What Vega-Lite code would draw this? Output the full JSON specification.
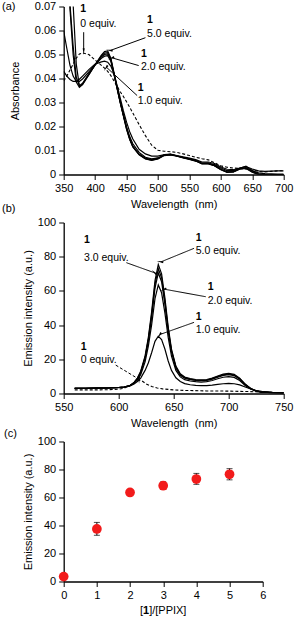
{
"$schema":"https://vega.github.io/schema/vega-lite/v6.json",
"background":"white",
"padding":{"left":1.7,"top":0.5,"right":0,"bottom":0},
"autosize":{"type":"pad"},
"bounds":"flush",
"spacing":48,
"config":{"font":"Liberation Sans","view":{"stroke":null},
"axis":{"grid":false,"domainColor":"black","domainWidth":1.3,"tickColor":"black","tickSize":5,"tickWidth":1,"labelColor":"black","labelFontSize":11,"labelPadding":3,"labelOverlap":false,"labelFlush":false,"labelBound":false,"labelSeparation":0,"titleColor":"black","titleFontSize":11,"titleFontWeight":"normal","titlePadding":5,"labelFont":"Liberation Sans","titleFont":"Liberation Sans"}},
"datasets":{
"absorb":[
{"nm":350,"e0":0.039,"e1":0.043,"e2":0.0597,"e3":0.10,"e4":0.14,"e5":0.13},
{"nm":355,"e0":0.041,"e1":0.041,"e2":0.0525,"e3":0.085,"e4":0.115,"e5":0.10},
{"nm":360,"e0":0.0435,"e1":0.0396,"e2":0.0455,"e3":0.071,"e4":0.092,"e5":0.069},
{"nm":365,"e0":0.046,"e1":0.0388,"e2":0.041,"e3":0.0535,"e4":0.071,"e5":0.050},
{"nm":370,"e0":0.0485,"e1":0.0388,"e2":0.0388,"e3":0.0405,"e4":0.046,"e5":0.0385},
{"nm":375,"e0":0.0502,"e1":0.0397,"e2":0.0388,"e3":0.037,"e4":0.0367,"e5":0.0363},
{"nm":380,"e0":0.0507,"e1":0.041,"e2":0.0398,"e3":0.038,"e4":0.0376,"e5":0.0375},
{"nm":390,"e0":0.050,"e1":0.0437,"e2":0.0428,"e3":0.042,"e4":0.0417,"e5":0.0415},
{"nm":400,"e0":0.0477,"e1":0.046,"e2":0.0458,"e3":0.0457,"e4":0.0457,"e5":0.0458},
{"nm":410,"e0":0.0455,"e1":0.0469,"e2":0.0484,"e3":0.049,"e4":0.0494,"e5":0.0497},
{"nm":415,"e0":0.0443,"e1":0.0472,"e2":0.0493,"e3":0.050,"e4":0.0506,"e5":0.0512},
{"nm":420,"e0":0.043,"e1":0.0468,"e2":0.0495,"e3":0.0502,"e4":0.0508,"e5":0.0515},
{"nm":425,"e0":0.0412,"e1":0.0452,"e2":0.0472,"e3":0.0478,"e4":0.048,"e5":0.0485},
{"nm":430,"e0":0.039,"e1":0.042,"e2":0.0418,"e3":0.0418,"e4":0.042,"e5":0.0425},
{"nm":435,"e0":0.0368,"e1":0.037,"e2":0.0358,"e3":0.0358,"e4":0.036,"e5":0.0365},
{"nm":440,"e0":0.0345,"e1":0.0318,"e2":0.0302,"e3":0.0298,"e4":0.030,"e5":0.0305},
{"nm":445,"e0":0.0325,"e1":0.0265,"e2":0.0248,"e3":0.0243,"e4":0.0245,"e5":0.025},
{"nm":450,"e0":0.0303,"e1":0.0218,"e2":0.0198,"e3":0.0188,"e4":0.019,"e5":0.0195},
{"nm":455,"e0":0.028,"e1":0.0178,"e2":0.0158,"e3":0.0146,"e4":0.0148,"e5":0.015},
{"nm":460,"e0":0.0256,"e1":0.0148,"e2":0.0128,"e3":0.0115,"e4":0.0116,"e5":0.0118},
{"nm":470,"e0":0.0208,"e1":0.0105,"e2":0.0092,"e3":0.0082,"e4":0.0083,"e5":0.0085},
{"nm":480,"e0":0.0162,"e1":0.0086,"e2":0.0072,"e3":0.0065,"e4":0.0066,"e5":0.0068},
{"nm":490,"e0":0.0122,"e1":0.0077,"e2":0.0065,"e3":0.0059,"e4":0.006,"e5":0.0062},
{"nm":500,"e0":0.0101,"e1":0.0077,"e2":0.0069,"e3":0.0065,"e4":0.0066,"e5":0.0068},
{"nm":510,"e0":0.0097,"e1":0.0083,"e2":0.0081,"e3":0.0079,"e4":0.008,"e5":0.0082},
{"nm":520,"e0":0.0095,"e1":0.0085,"e2":0.0084,"e3":0.0082,"e4":0.0083,"e5":0.0084},
{"nm":530,"e0":0.0092,"e1":0.0079,"e2":0.0077,"e3":0.0076,"e4":0.0077,"e5":0.0078},
{"nm":540,"e0":0.0086,"e1":0.0074,"e2":0.0071,"e3":0.0069,"e4":0.007,"e5":0.0071},
{"nm":550,"e0":0.0079,"e1":0.0068,"e2":0.0065,"e3":0.0063,"e4":0.0064,"e5":0.0065},
{"nm":560,"e0":0.0072,"e1":0.0062,"e2":0.0058,"e3":0.0056,"e4":0.0057,"e5":0.0058},
{"nm":570,"e0":0.0066,"e1":0.0052,"e2":0.0047,"e3":0.0044,"e4":0.0045,"e5":0.0046},
{"nm":580,"e0":0.0061,"e1":0.0052,"e2":0.0047,"e3":0.0044,"e4":0.0045,"e5":0.0047},
{"nm":590,"e0":0.0049,"e1":0.0046,"e2":0.0041,"e3":0.0037,"e4":0.0037,"e5":0.0037},
{"nm":600,"e0":0.0036,"e1":0.0031,"e2":0.0027,"e3":0.0022,"e4":0.0021,"e5":0.002},
{"nm":610,"e0":0.003,"e1":0.0022,"e2":0.0016,"e3":0.0011,"e4":0.001,"e5":0.0009},
{"nm":620,"e0":0.0027,"e1":0.002,"e2":0.0016,"e3":0.0011,"e4":0.0011,"e5":0.0012},
{"nm":630,"e0":0.0025,"e1":0.0027,"e2":0.0026,"e3":0.0022,"e4":0.0023,"e5":0.0026},
{"nm":640,"e0":0.0023,"e1":0.0033,"e2":0.0029,"e3":0.0025,"e4":0.0027,"e5":0.0035},
{"nm":650,"e0":0.0019,"e1":0.0023,"e2":0.0016,"e3":0.001,"e4":0.0011,"e5":0.0015},
{"nm":660,"e0":0.0013,"e1":0.0015,"e2":0.0007,"e3":0,"e4":0,"e5":0.0003},
{"nm":670,"e0":0.0011,"e1":0.0013,"e2":0.0004,"e3":0,"e4":0,"e5":0},
{"nm":680,"e0":0.0013,"e1":0.0014,"e2":0.0003,"e3":0,"e4":0,"e5":0},
{"nm":690,"e0":0.0015,"e1":0.0015,"e2":0.0002,"e3":0,"e4":0,"e5":0},
{"nm":700,"e0":0.0016,"e1":0.0015,"e2":0.0002,"e3":0,"e4":0,"e5":0}
],
"emis":[
{"nm":560,"e1":3.0,"e2":3.0,"e3":3.0,"e4":3.0,"e5":3.0},
{"nm":570,"e1":3.0,"e2":3.0,"e3":3.0,"e4":3.0,"e5":3.0},
{"nm":580,"e1":3.1,"e2":3.1,"e3":3.1,"e4":3.1,"e5":3.1},
{"nm":590,"e1":3.2,"e2":3.2,"e3":3.2,"e4":3.2,"e5":3.2},
{"nm":600,"e1":3.4,"e2":3.5,"e3":3.5,"e4":3.5,"e5":3.5},
{"nm":605,"e1":3.7,"e2":3.8,"e3":3.8,"e4":3.8,"e5":3.8},
{"nm":610,"e1":4.3,"e2":4.5,"e3":4.6,"e4":4.6,"e5":4.6},
{"nm":614,"e1":5.5,"e2":6.0,"e3":6.3,"e4":6.4,"e5":6.5},
{"nm":617,"e1":7,"e2":8.0,"e3":8.5,"e4":8.8,"e5":9},
{"nm":620,"e1":9,"e2":11,"e3":12.1,"e4":12.6,"e5":13},
{"nm":624,"e1":13.5,"e2":18.5,"e3":20.5,"e4":21.3,"e5":22},
{"nm":627,"e1":18,"e2":27.8,"e3":30.8,"e4":31.9,"e5":33},
{"nm":630,"e1":24,"e2":40.4,"e3":44.8,"e4":46.4,"e5":48},
{"nm":633,"e1":30.5,"e2":55.5,"e3":61.6,"e4":63.8,"e5":66},
{"nm":636,"e1":33.5,"e2":63.5,"e3":70.5,"e4":73,"e5":75.5},
{"nm":639,"e1":31.5,"e2":58.9,"e3":65.4,"e4":67.7,"e5":70},
{"nm":642,"e1":26,"e2":47.1,"e3":52.3,"e4":54.2,"e5":56},
{"nm":645,"e1":19,"e2":32.8,"e3":36.4,"e4":37.7,"e5":39},
{"nm":648,"e1":13.5,"e2":21.9,"e3":24.3,"e4":25.1,"e5":26},
{"nm":652,"e1":9.2,"e2":13.5,"e3":14.9,"e4":15.5,"e5":16},
{"nm":656,"e1":7.0,"e2":9.7,"e3":10.7,"e4":11.1,"e5":11.5},
{"nm":660,"e1":5.8,"e2":8.1,"e3":9.0,"e4":9.3,"e5":9.6},
{"nm":665,"e1":5.1,"e2":7.3,"e3":8.1,"e4":8.4,"e5":8.7},
{"nm":670,"e1":4.7,"e2":6.9,"e3":7.7,"e4":7.9,"e5":8.2},
{"nm":675,"e1":4.6,"e2":6.7,"e3":7.5,"e4":7.7,"e5":8.0},
{"nm":680,"e1":4.6,"e2":6.9,"e3":7.7,"e4":7.9,"e5":8.2},
{"nm":685,"e1":4.9,"e2":7.6,"e3":8.4,"e4":8.7,"e5":9.0},
{"nm":690,"e1":5.3,"e2":8.6,"e3":9.5,"e4":9.9,"e5":10.2},
{"nm":695,"e1":5.7,"e2":9.5,"e3":10.6,"e4":10.9,"e5":11.3},
{"nm":700,"e1":5.9,"e2":9.9,"e3":11.0,"e4":11.4,"e5":11.8},
{"nm":705,"e1":5.7,"e2":9.4,"e3":10.5,"e4":10.8,"e5":11.2},
{"nm":710,"e1":5.0,"e2":7.6,"e3":8.4,"e4":8.7,"e5":9.0},
{"nm":715,"e1":3.8,"e2":4.6,"e3":5.1,"e4":5.3,"e5":5.5},
{"nm":720,"e1":2.6,"e2":2.6,"e3":2.8,"e4":2.9,"e5":3.0},
{"nm":725,"e1":1.7,"e2":1.4,"e3":1.4,"e4":1.5,"e5":1.5},
{"nm":730,"e1":1.2,"e2":0.8,"e3":0.8,"e4":0.8,"e5":0.8},
{"nm":740,"e1":0.7,"e2":0.5,"e3":0.5,"e4":0.5,"e5":0.5},
{"nm":750,"e1":0.5,"e2":0.4,"e3":0.4,"e4":0.4,"e5":0.4}
],
"emis0":[
{"nm":560,"I":2.1},{"nm":570,"I":2.1},{"nm":580,"I":2.1},{"nm":590,"I":2.2},{"nm":600,"I":2.5},{"nm":605,"I":3.1},{"nm":610,"I":4.5},{"nm":614,"I":6.5},{"nm":618,"I":7.9},{"nm":621,"I":7.4},{"nm":625,"I":5.6},{"nm":630,"I":4.1},{"nm":635,"I":3.2},{"nm":640,"I":2.7},{"nm":650,"I":2.1},{"nm":660,"I":1.8},{"nm":680,"I":1.5},{"nm":700,"I":1.4},{"nm":720,"I":1.1},{"nm":740,"I":0.6},{"nm":750,"I":0.5}
],
"pts":[
{"r":0,"I":3.5,"lo":1.5,"hi":5.5},
{"r":1,"I":37.5,"lo":33,"hi":42.2},
{"r":2,"I":63.6,"lo":62.5,"hi":64.7},
{"r":3,"I":68.4,"lo":65.8,"hi":71.2},
{"r":4,"I":73.2,"lo":69.4,"hi":77.2},
{"r":5,"I":76.6,"lo":72.6,"hi":80.6}
],
"arrA":[
{"id":"0","x":381.8,"y":0.0593,"x2":381.8,"y2":0.0517},
{"id":"5.0","x":480,"y":0.057,"x2":424.3,"y2":0.0517},
{"id":"2.0","x":469.3,"y":0.0454,"x2":427,"y2":0.0486},
{"id":"1.0","x":466.8,"y":0.0329,"x2":418,"y2":0.0447}
],
"labA":[
{"k":"b","x":376.5,"y":0.069,"t":"1"},{"k":"n","x":376.5,"y":0.0628,"t":"0 equiv."},
{"k":"b","x":482.7,"y":0.0642,"t":"1"},{"k":"n","x":482.7,"y":0.0586,"t":"5.0 equiv."},
{"k":"b","x":473,"y":0.0503,"t":"1"},{"k":"n","x":473,"y":0.0447,"t":"2.0 equiv."},
{"k":"b","x":468,"y":0.0361,"t":"1"},{"k":"n","x":468,"y":0.0308,"t":"1.0 equiv."},
{"k":"p","x":252,"y":0.0697,"t":"(a)"}
],
"arrB":[
{"id":"3.0","x":607,"y":76.5,"x2":633,"y2":70.5},
{"id":"5.0","x":668.5,"y":84.9,"x2":638.5,"y2":77},
{"id":"2.0","x":679.1,"y":56.6,"x2":641.5,"y2":61},
{"id":"1.0","x":668.5,"y":41.6,"x2":637.5,"y2":34.5},
{"id":"0","x":597.3,"y":16.6,"x2":618.5,"y2":8.3}
],
"labB":[
{"k":"b","x":568.5,"y":89.9,"t":"1"},{"k":"n","x":568.5,"y":79.5,"t":"3.0 equiv."},
{"k":"b","x":670,"y":90.8,"t":"1"},{"k":"n","x":670,"y":83.3,"t":"5.0 equiv."},
{"k":"b","x":681,"y":62.3,"t":"1"},{"k":"n","x":681,"y":54,"t":"2.0 equiv."},
{"k":"b","x":670,"y":44.9,"t":"1"},{"k":"n","x":670,"y":37.1,"t":"1.0 equiv."},
{"k":"b","x":565.5,"y":27.4,"t":"1"},{"k":"n","x":565.5,"y":19.6,"t":"0 equiv."},
{"k":"p","x":494,"y":108,"t":"(b)"}
],
"labC":[
{"k":"n","x":-1.8,"y":105.5,"t":"(c)"},
{"k":"n","x":2.30,"y":-21.4,"t":"["},
{"k":"b","x":2.392,"y":-21.4,"t":"1"},
{"k":"n","x":2.577,"y":-21.4,"t":"]/[PPIX]"}
]
},
"vconcat":[
{"width":220,"height":168,
"layer":[
{"data":{"name":"absorb"},"transform":[{"fold":["e1","e2","e3","e4","e5"],"as":["s","A"]}],
"mark":{"type":"line","color":"black","strokeWidth":1.2,"clip":true},
"encoding":{"x":{"field":"nm","type":"quantitative","scale":{"domain":[350,700],"nice":false,"zero":false},"axis":{"tickCount":7,"labelOverlap":false,"title":"Wavelength\u00a0 (nm)"}},
"y":{"field":"A","type":"quantitative","scale":{"domain":[0,0.07],"nice":false},"axis":{"tickCount":7,"labelOverlap":false,"labelExpr":"datum.value == 0 ? '0' : format(datum.value, '.2f')","title":"Absorbance","titlePadding":14}},
"detail":{"field":"s"}}},
{"data":{"name":"absorb"},
"mark":{"type":"line","color":"black","strokeWidth":1.1,"strokeDash":[3,2],"clip":true},
"encoding":{"x":{"field":"nm","type":"quantitative"},"y":{"field":"e0","type":"quantitative"}}},
{"data":{"name":"arrA"},"mark":{"type":"rule","color":"black","strokeWidth":1},
"encoding":{"x":{"field":"x","type":"quantitative"},"y":{"field":"y","type":"quantitative"},"x2":{"field":"x2"},"y2":{"field":"y2"}}},
{"data":{"name":"arrA"},"mark":{"type":"point","shape":"wedge","filled":true,"color":"black","size":60,"opacity":1},
"encoding":{"x":{"field":"x2","type":"quantitative"},"y":{"field":"y2","type":"quantitative"},
"angle":{"field":"id","type":"ordinal","scale":{"domain":["0","1.0","2.0","5.0"],"range":[180,312.7,286,250]},"legend":null}}},
{"data":{"name":"labA"},"transform":[{"filter":"datum.k == 'b'"}],"mark":{"type":"text","align":"left","baseline":"middle","fontSize":10.5,"fontWeight":"bold","color":"black"},
"encoding":{"x":{"field":"x","type":"quantitative"},"y":{"field":"y","type":"quantitative"},"text":{"field":"t"}}},
{"data":{"name":"labA"},"transform":[{"filter":"datum.k == 'n'"}],"mark":{"type":"text","align":"left","baseline":"middle","fontSize":10.5,"color":"black"},
"encoding":{"x":{"field":"x","type":"quantitative"},"y":{"field":"y","type":"quantitative"},"text":{"field":"t"}}},
{"data":{"name":"labA"},"transform":[{"filter":"datum.k == 'p'"}],"mark":{"type":"text","align":"left","baseline":"middle","fontSize":11,"color":"black"},
"encoding":{"x":{"field":"x","type":"quantitative"},"y":{"field":"y","type":"quantitative"},"text":{"field":"t"}}}
]},
{"width":220,"height":171,
"layer":[
{"data":{"name":"emis"},"transform":[{"fold":["e1","e2","e3","e4","e5"],"as":["s","I"]}],
"mark":{"type":"line","color":"black","strokeWidth":1.2,"clip":true},
"encoding":{"x":{"field":"nm","type":"quantitative","scale":{"domain":[550,750],"nice":false,"zero":false},"axis":{"tickCount":4,"labelOverlap":false,"title":"Wavelength\u00a0 (nm)"}},
"y":{"field":"I","type":"quantitative","scale":{"domain":[0,100],"nice":false},"axis":{"tickCount":5,"labelOverlap":false,"title":"Emission intensity (a.u.)","titlePadding":4}},
"detail":{"field":"s"}}},
{"data":{"name":"emis0"},
"mark":{"type":"line","color":"black","strokeWidth":1.1,"strokeDash":[3,2],"clip":true},
"encoding":{"x":{"field":"nm","type":"quantitative"},"y":{"field":"I","type":"quantitative"}}},
{"data":{"name":"arrB"},"mark":{"type":"rule","color":"black","strokeWidth":1},
"encoding":{"x":{"field":"x","type":"quantitative"},"y":{"field":"y","type":"quantitative"},"x2":{"field":"x2"},"y2":{"field":"y2"},
"strokeDash":{"condition":{"test":"datum.id == '0'","value":[3,2]},"value":[1,0]}}},
{"data":{"name":"arrB"},"mark":{"type":"point","shape":"wedge","filled":true,"color":"black","size":60,"opacity":1},
"encoding":{"x":{"field":"x2","type":"quantitative"},"y":{"field":"y2","type":"quantitative"},
"angle":{"field":"id","type":"ordinal","scale":{"domain":["0","1.0","2.0","3.0","5.0"],"range":[121.2,250.4,280.2,109.8,247.5]},"legend":null}}},
{"data":{"name":"labB"},"transform":[{"filter":"datum.k == 'b'"}],"mark":{"type":"text","align":"left","baseline":"middle","fontSize":10.5,"fontWeight":"bold","color":"black"},
"encoding":{"x":{"field":"x","type":"quantitative"},"y":{"field":"y","type":"quantitative"},"text":{"field":"t"}}},
{"data":{"name":"labB"},"transform":[{"filter":"datum.k == 'n'"}],"mark":{"type":"text","align":"left","baseline":"middle","fontSize":10.5,"color":"black"},
"encoding":{"x":{"field":"x","type":"quantitative"},"y":{"field":"y","type":"quantitative"},"text":{"field":"t"}}},
{"data":{"name":"labB"},"transform":[{"filter":"datum.k == 'p'"}],"mark":{"type":"text","align":"left","baseline":"middle","fontSize":11,"color":"black"},
"encoding":{"x":{"field":"x","type":"quantitative"},"y":{"field":"y","type":"quantitative"},"text":{"field":"t"}}}
]},
{"width":199,"height":140,
"layer":[
{"data":{"name":"pts"},"mark":{"type":"rule","color":"black","strokeWidth":1},
"encoding":{"x":{"field":"r","type":"quantitative","scale":{"domain":[0,6],"nice":false},"axis":{"tickCount":6,"labelOverlap":false,"title":null}},
"y":{"field":"lo","type":"quantitative","scale":{"domain":[0,100],"nice":false},"axis":{"tickCount":5,"labelOverlap":false,"title":"Emission intensity (a.u.)","titlePadding":4}},
"y2":{"field":"hi"}}},
{"data":{"name":"pts"},"mark":{"type":"tick","orient":"horizontal","color":"black","size":6,"thickness":1},
"encoding":{"x":{"field":"r","type":"quantitative"},"y":{"field":"lo","type":"quantitative"}}},
{"data":{"name":"pts"},"mark":{"type":"tick","orient":"horizontal","color":"black","size":6,"thickness":1},
"encoding":{"x":{"field":"r","type":"quantitative"},"y":{"field":"hi","type":"quantitative"}}},
{"data":{"name":"pts"},"mark":{"type":"point","filled":true,"color":"#f21b1b","size":95,"opacity":1,"clip":false},
"encoding":{"x":{"field":"r","type":"quantitative"},"y":{"field":"I","type":"quantitative"}}},
{"data":{"name":"labC"},"transform":[{"filter":"datum.k == 'n'"}],"mark":{"type":"text","align":"left","baseline":"middle","fontSize":11,"color":"black"},
"encoding":{"x":{"field":"x","type":"quantitative"},"y":{"field":"y","type":"quantitative"},"text":{"field":"t"}}},
{"data":{"name":"labC"},"transform":[{"filter":"datum.k == 'b'"}],"mark":{"type":"text","align":"left","baseline":"middle","fontSize":11,"fontWeight":"bold","color":"black"},
"encoding":{"x":{"field":"x","type":"quantitative"},"y":{"field":"y","type":"quantitative"},"text":{"field":"t"}}}
]}
]
}
